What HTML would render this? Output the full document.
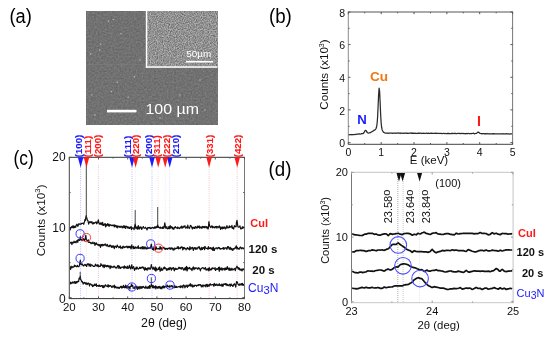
<!DOCTYPE html>
<html><head><meta charset="utf-8"><style>
html,body{margin:0;padding:0;background:#fff;}
body{width:550px;height:337px;overflow:hidden;position:relative;}
svg{position:absolute;left:0;top:0;}
text{font-family:"Liberation Sans",Arial,sans-serif;}
.pl{font-size:20px;fill:#000;}
.tk{font-size:10.5px;fill:#111;}
.tkc{font-size:11.5px;fill:#111;}
.tkd{font-size:11px;fill:#111;}
.ttl{font-size:11px;fill:#111;}
.hkl{font-size:9.6px;font-weight:bold;stroke-width:0.08px;}
.lab{font-size:11px;font-weight:bold;}
</style></head><body>
<svg width="550" height="337" viewBox="0 0 550 337">
<defs>
<clipPath id="clipc"><rect x="69.8" y="157.8" width="174.2" height="140.3"/></clipPath>
<filter id="nzm" x="0" y="0" width="100%" height="100%" color-interpolation-filters="sRGB">
<feTurbulence type="fractalNoise" baseFrequency="0.55" numOctaves="2" seed="5"/>
<feColorMatrix type="matrix" values="0.17 0 0 0 0.359  0.17 0 0 0 0.359  0.17 0 0 0 0.359  0 0 0 0 1"/>
</filter>
<filter id="nzi" x="0" y="0" width="100%" height="100%" color-interpolation-filters="sRGB">
<feTurbulence type="fractalNoise" baseFrequency="0.85" numOctaves="2" seed="9"/>
<feColorMatrix type="matrix" values="0.55 0 0 0 0.295  0.55 0 0 0 0.295  0.55 0 0 0 0.295  0 0 0 0 1"/>
<feGaussianBlur stdDeviation="0.35"/>
</filter>
</defs>
<!-- (a) -->
<text x="9.5" y="22.8" class="pl" textLength="22.3" lengthAdjust="spacingAndGlyphs">(a)</text>
<rect x="86" y="11" width="131.5" height="113.4" fill="#717171" filter="url(#nzm)"/>
<rect x="86" y="64.2" width="60" height="0.8" fill="#808080" opacity="0.6"/>
<circle cx="108.5" cy="21.3" r="0.75" fill="#b8b8b8"/><circle cx="113.4" cy="19.4" r="0.75" fill="#b8b8b8"/><circle cx="90.6" cy="54" r="0.75" fill="#b8b8b8"/><circle cx="99.6" cy="49.9" r="0.75" fill="#b8b8b8"/><circle cx="100.7" cy="44.2" r="0.75" fill="#b8b8b8"/><circle cx="117.3" cy="82.3" r="0.75" fill="#b8b8b8"/><circle cx="134.5" cy="76.8" r="0.75" fill="#b8b8b8"/><circle cx="91.8" cy="95" r="0.75" fill="#b8b8b8"/><circle cx="128.2" cy="97.3" r="0.75" fill="#b8b8b8"/><circle cx="111.4" cy="91.4" r="0.75" fill="#b8b8b8"/><circle cx="121" cy="33.8" r="0.75" fill="#b8b8b8"/><circle cx="140" cy="60" r="0.75" fill="#b8b8b8"/><circle cx="200" cy="80" r="0.75" fill="#b8b8b8"/><circle cx="180" cy="95" r="0.75" fill="#b8b8b8"/><circle cx="160" cy="118" r="0.75" fill="#b8b8b8"/><circle cx="95" cy="115" r="0.75" fill="#b8b8b8"/><circle cx="205" cy="110" r="0.75" fill="#b8b8b8"/>
<rect x="147" y="11" width="70.5" height="55.2" fill="#8c8c8c" filter="url(#nzi)"/>
<rect x="145.8" y="11" width="1.5" height="56.8" fill="#fff"/>
<rect x="145.8" y="66.3" width="71.7" height="1.5" fill="#fff"/>
<rect x="186" y="60.9" width="27" height="1.6" fill="#fff"/>
<text x="186.3" y="57.4" style="font-size:9.2px;fill:#fff;" textLength="25" lengthAdjust="spacingAndGlyphs">50µm</text>
<rect x="107" y="109.8" width="29.5" height="2.6" fill="#fff"/>
<text x="145.5" y="113.5" style="font-size:14.5px;fill:#fff;" textLength="53.5" lengthAdjust="spacingAndGlyphs">100 µm</text>

<!-- (b) -->
<text x="268.9" y="22.8" class="pl" textLength="22.9" lengthAdjust="spacingAndGlyphs">(b)</text>
<g stroke="#555" stroke-width="1" fill="none">
<line x1="348.3" y1="11.5" x2="348.3" y2="144.8" stroke="#8a8a8a" stroke-width="1.0"/><line x1="512.6" y1="11.5" x2="512.6" y2="144.8" stroke="#777" stroke-width="1.0"/><line x1="348.3" y1="12" x2="512.6" y2="12" stroke="#555" stroke-width="1.0"/><line x1="348.3" y1="144.3" x2="512.6" y2="144.3" stroke="#444" stroke-width="1.0"/>
<line x1="348.3" y1="144.3" x2="348.3" y2="142.10000000000002"/>
<line x1="348.3" y1="12" x2="348.3" y2="14.2"/>
<line x1="381.2" y1="144.3" x2="381.2" y2="142.10000000000002"/>
<line x1="381.2" y1="12" x2="381.2" y2="14.2"/>
<line x1="414.0" y1="144.3" x2="414.0" y2="142.10000000000002"/>
<line x1="414.0" y1="12" x2="414.0" y2="14.2"/>
<line x1="446.9" y1="144.3" x2="446.9" y2="142.10000000000002"/>
<line x1="446.9" y1="12" x2="446.9" y2="14.2"/>
<line x1="479.7" y1="144.3" x2="479.7" y2="142.10000000000002"/>
<line x1="479.7" y1="12" x2="479.7" y2="14.2"/>
<line x1="512.6" y1="144.3" x2="512.6" y2="142.10000000000002"/>
<line x1="512.6" y1="12" x2="512.6" y2="14.2"/>
<line x1="364.7" y1="144.3" x2="364.7" y2="143.0"/>
<line x1="364.7" y1="12" x2="364.7" y2="13.3"/>
<line x1="397.6" y1="144.3" x2="397.6" y2="143.0"/>
<line x1="397.6" y1="12" x2="397.6" y2="13.3"/>
<line x1="430.5" y1="144.3" x2="430.5" y2="143.0"/>
<line x1="430.5" y1="12" x2="430.5" y2="13.3"/>
<line x1="463.3" y1="144.3" x2="463.3" y2="143.0"/>
<line x1="463.3" y1="12" x2="463.3" y2="13.3"/>
<line x1="496.2" y1="144.3" x2="496.2" y2="143.0"/>
<line x1="496.2" y1="12" x2="496.2" y2="13.3"/>
<line x1="348.3" y1="142.6" x2="350.5" y2="142.6"/>
<line x1="512.6" y1="142.6" x2="510.40000000000003" y2="142.6"/>
<line x1="348.3" y1="109.9" x2="350.5" y2="109.9"/>
<line x1="512.6" y1="109.9" x2="510.40000000000003" y2="109.9"/>
<line x1="348.3" y1="77.3" x2="350.5" y2="77.3"/>
<line x1="512.6" y1="77.3" x2="510.40000000000003" y2="77.3"/>
<line x1="348.3" y1="44.6" x2="350.5" y2="44.6"/>
<line x1="512.6" y1="44.6" x2="510.40000000000003" y2="44.6"/>
<line x1="348.3" y1="12.0" x2="350.5" y2="12.0"/>
<line x1="512.6" y1="12.0" x2="510.40000000000003" y2="12.0"/>
<line x1="348.3" y1="126.3" x2="349.6" y2="126.3"/>
<line x1="512.6" y1="126.3" x2="511.3" y2="126.3"/>
<line x1="348.3" y1="93.6" x2="349.6" y2="93.6"/>
<line x1="512.6" y1="93.6" x2="511.3" y2="93.6"/>
<line x1="348.3" y1="61.0" x2="349.6" y2="61.0"/>
<line x1="512.6" y1="61.0" x2="511.3" y2="61.0"/>
<line x1="348.3" y1="28.3" x2="349.6" y2="28.3"/>
<line x1="512.6" y1="28.3" x2="511.3" y2="28.3"/>
</g>
<path d="M348.6,134.8 L349.1,134.8 L349.6,134.7 L350.1,134.6 L350.6,134.6 L351.1,134.5 L351.6,134.6 L352.1,134.8 L352.6,134.5 L353.1,134.5 L353.6,134.6 L354.1,134.5 L354.6,134.5 L355.1,134.3 L355.6,134.4 L356.1,134.5 L356.6,134.2 L357.1,134.2 L357.6,134.0 L358.1,134.0 L358.6,133.9 L359.1,134.1 L359.6,133.9 L360.1,134.0 L360.6,134.0 L361.1,133.9 L361.6,133.5 L362.1,133.7 L362.6,133.7 L363.1,133.6 L363.6,133.0 L364.1,132.5 L364.6,131.5 L365.1,130.6 L365.6,130.4 L366.1,130.5 L366.6,131.4 L367.1,132.4 L367.6,132.7 L368.1,133.0 L368.6,133.1 L369.1,133.0 L369.6,132.7 L370.1,132.7 L370.6,132.7 L371.1,132.1 L371.6,132.0 L372.1,131.6 L372.6,131.1 L373.1,131.1 L373.6,130.6 L374.1,130.2 L374.6,130.1 L375.1,129.8 L375.6,129.1 L376.1,128.3 L376.6,126.7 L377.1,123.5 L377.6,117.0 L378.1,106.2 L378.6,94.7 L379.1,88.2 L379.6,91.4 L380.1,101.8 L380.6,113.7 L381.1,122.3 L381.6,127.2 L382.1,129.7 L382.6,130.8 L383.1,131.7 L383.6,132.4 L384.1,132.4 L384.6,132.8 L385.1,133.0 L385.6,133.2 L386.1,133.2 L386.6,133.1 L387.1,133.1 L387.6,133.1 L388.1,133.3 L388.6,133.1 L389.1,133.1 L389.6,133.2 L390.1,133.1 L390.6,133.1 L391.1,133.0 L391.6,133.1 L392.1,133.1 L392.6,133.3 L393.1,133.2 L393.6,133.2 L394.1,133.2 L394.6,133.1 L395.1,133.3 L395.6,133.2 L396.1,133.2 L396.6,133.0 L397.1,133.2 L397.6,133.0 L398.1,132.9 L398.6,133.2 L399.1,133.1 L399.6,133.2 L400.1,133.5 L400.6,133.1 L401.1,133.1 L401.6,133.2 L402.1,133.3 L402.6,133.2 L403.1,133.2 L403.6,133.3 L404.1,133.3 L404.6,133.1 L405.1,133.2 L405.6,133.2 L406.1,133.1 L406.6,133.3 L407.1,133.1 L407.6,133.4 L408.1,133.3 L408.6,133.3 L409.1,133.2 L409.6,133.2 L410.1,133.0 L410.6,133.1 L411.1,133.3 L411.6,133.0 L412.1,133.4 L412.6,133.1 L413.1,133.4 L413.6,133.2 L414.1,133.4 L414.6,133.3 L415.1,133.1 L415.6,133.4 L416.1,133.5 L416.6,133.3 L417.1,133.3 L417.6,133.3 L418.1,133.2 L418.6,133.4 L419.1,133.2 L419.6,133.3 L420.1,133.2 L420.6,133.2 L421.1,133.2 L421.6,133.5 L422.1,133.3 L422.6,133.4 L423.1,133.3 L423.6,133.2 L424.1,133.3 L424.6,133.3 L425.1,133.3 L425.6,133.3 L426.1,133.3 L426.6,133.2 L427.1,133.2 L427.6,133.5 L428.1,133.3 L428.6,133.2 L429.1,133.4 L429.6,133.5 L430.1,133.2 L430.6,133.3 L431.1,133.3 L431.6,133.1 L432.1,133.4 L432.6,133.4 L433.1,133.4 L433.6,133.3 L434.1,133.4 L434.6,133.3 L435.1,133.4 L435.6,133.2 L436.1,133.2 L436.6,133.5 L437.1,133.3 L437.6,133.4 L438.1,133.4 L438.6,133.3 L439.1,133.3 L439.6,133.5 L440.1,133.4 L440.6,133.4 L441.1,133.4 L441.6,133.6 L442.1,133.5 L442.6,133.5 L443.1,133.4 L443.6,133.3 L444.1,133.5 L444.6,133.5 L445.1,133.4 L445.6,133.5 L446.1,133.5 L446.6,133.5 L447.1,133.6 L447.6,133.4 L448.1,133.6 L448.6,133.3 L449.1,133.6 L449.6,133.5 L450.1,133.6 L450.6,133.7 L451.1,133.7 L451.6,133.3 L452.1,133.3 L452.6,133.6 L453.1,133.4 L453.6,133.5 L454.1,133.6 L454.6,133.3 L455.1,133.2 L455.6,133.5 L456.1,133.5 L456.6,133.5 L457.1,133.5 L457.6,133.4 L458.1,133.3 L458.6,133.5 L459.1,133.4 L459.6,133.3 L460.1,133.6 L460.6,133.5 L461.1,133.6 L461.6,133.4 L462.1,133.5 L462.6,133.4 L463.1,133.4 L463.6,133.6 L464.1,133.5 L464.6,133.6 L465.1,133.6 L465.6,133.8 L466.1,133.4 L466.6,133.7 L467.1,133.6 L467.6,133.6 L468.1,133.4 L468.6,133.5 L469.1,133.7 L469.6,133.6 L470.1,133.6 L470.6,133.6 L471.1,133.7 L471.6,133.6 L472.1,133.4 L472.6,133.5 L473.1,133.4 L473.6,133.2 L474.1,133.6 L474.6,133.8 L475.1,133.6 L475.6,133.5 L476.1,133.4 L476.6,133.4 L477.1,132.9 L477.6,132.4 L478.1,132.1 L478.6,132.2 L479.1,132.6 L479.6,133.1 L480.1,133.4 L480.6,133.5 L481.1,133.7 L481.6,133.6 L482.1,133.9 L482.6,133.6 L483.1,133.7 L483.6,133.7 L484.1,133.6 L484.6,134.0 L485.1,133.9 L485.6,133.7 L486.1,133.9 L486.6,133.8 L487.1,133.5 L487.6,133.8 L488.1,133.8 L488.6,133.8 L489.1,133.7 L489.6,133.8 L490.1,133.8 L490.6,133.9 L491.1,133.8 L491.6,133.8 L492.1,134.0 L492.6,133.7 L493.1,133.8 L493.6,133.6 L494.1,134.0 L494.6,133.9 L495.1,133.9 L495.6,133.9 L496.1,133.8 L496.6,133.9 L497.1,133.8 L497.6,133.8 L498.1,133.8 L498.6,134.0 L499.1,133.9 L499.6,133.8 L500.1,133.8 L500.6,133.8 L501.1,134.0 L501.6,133.9 L502.1,133.9 L502.6,133.8 L503.1,133.7 L503.6,133.9 L504.1,134.0 L504.6,133.8 L505.1,133.8 L505.6,133.8 L506.1,133.9 L506.6,133.7 L507.1,133.8 L507.6,133.8 L508.1,134.0 L508.6,133.8 L509.1,134.0 L509.6,134.1 L510.1,133.9 L510.6,133.8 L511.1,133.9 L511.6,133.9 L512.1,133.8" fill="none" stroke="#2a2a2a" stroke-width="1.25" stroke-linejoin="round"/>
<g class="tk" text-anchor="end">
<text x="345" y="147.2">0</text><text x="345" y="114.5">2</text><text x="345" y="81.9">4</text><text x="345" y="49.2">6</text><text x="345" y="16.6">8</text>
</g>
<g class="tk" text-anchor="middle">
<text x="348.3" y="156.2">0</text><text x="381.2" y="156.2">1</text><text x="414.0" y="156.2">2</text><text x="446.9" y="156.2">3</text><text x="479.7" y="156.2">4</text><text x="512.6" y="156.2">5</text>
</g>
<text x="429" y="164" class="ttl" style="font-size:11.5px" text-anchor="middle">E (keV)</text>
<text transform="translate(328,74.5) rotate(-90)" class="ttl" style="font-size:11.6px" text-anchor="middle">Counts (x10<tspan dy="-4" style="font-size:7px">3</tspan><tspan dy="4">)</tspan></text>
<text x="370" y="81.4" style="font-size:13.6px;font-weight:bold;fill:#f07a12;">Cu</text>
<text x="357.2" y="124.4" style="font-size:13.2px;font-weight:bold;fill:#1a1aff;">N</text>
<text x="476.9" y="126.1" style="font-size:14.2px;font-weight:bold;fill:#ff1a1a;">I</text>

<!-- (c) -->
<text x="13.6" y="165.1" class="pl" textLength="20.2" lengthAdjust="spacingAndGlyphs">(c)</text>
<line x1="80.6" y1="165" x2="80.6" y2="298" stroke="#8c8cf6" stroke-width="0.7" stroke-dasharray="0.8,1.4"/><line x1="132.0" y1="165" x2="132.0" y2="298" stroke="#8c8cf6" stroke-width="0.7" stroke-dasharray="0.8,1.4"/><line x1="152.0" y1="165" x2="152.0" y2="298" stroke="#8c8cf6" stroke-width="0.7" stroke-dasharray="0.8,1.4"/><line x1="169.7" y1="165" x2="169.7" y2="298" stroke="#c8c8fa" stroke-width="0.7" stroke-dasharray="0.8,1.4"/><line x1="86.5" y1="165" x2="86.5" y2="298" stroke="#f8d0d0" stroke-width="0.7" stroke-dasharray="0.8,1.4"/><line x1="135.6" y1="165" x2="135.6" y2="298" stroke="#f8d0d0" stroke-width="0.7" stroke-dasharray="0.8,1.4"/><line x1="98.4" y1="165" x2="98.4" y2="298" stroke="#f49a9a" stroke-width="0.7" stroke-dasharray="0.8,1.4"/><line x1="158.2" y1="165" x2="158.2" y2="298" stroke="#f8d0d0" stroke-width="0.7" stroke-dasharray="0.8,1.4"/><line x1="165.2" y1="165" x2="165.2" y2="298" stroke="#f8d0d0" stroke-width="0.7" stroke-dasharray="0.8,1.4"/><line x1="209.1" y1="165" x2="209.1" y2="298" stroke="#f49a9a" stroke-width="0.7" stroke-dasharray="0.8,1.4"/><line x1="237.2" y1="165" x2="237.2" y2="298" stroke="#f49a9a" stroke-width="0.7" stroke-dasharray="0.8,1.4"/>
<g stroke="#555" stroke-width="1" fill="none">
<line x1="69.3" y1="156.8" x2="69.3" y2="299.1" stroke="#444" stroke-width="1.0"/><line x1="244.5" y1="156.8" x2="244.5" y2="299.1" stroke="#777" stroke-width="1.0"/><line x1="69.3" y1="157.3" x2="244.5" y2="157.3" stroke="#333" stroke-width="1.0"/><line x1="69.3" y1="298.6" x2="244.5" y2="298.6" stroke="#333" stroke-width="1.0"/>
<line x1="69.3" y1="298.6" x2="69.3" y2="296.40000000000003"/>
<line x1="69.3" y1="157.3" x2="69.3" y2="159.5"/>
<line x1="98.5" y1="298.6" x2="98.5" y2="296.40000000000003"/>
<line x1="98.5" y1="157.3" x2="98.5" y2="159.5"/>
<line x1="127.7" y1="298.6" x2="127.7" y2="296.40000000000003"/>
<line x1="127.7" y1="157.3" x2="127.7" y2="159.5"/>
<line x1="156.9" y1="298.6" x2="156.9" y2="296.40000000000003"/>
<line x1="156.9" y1="157.3" x2="156.9" y2="159.5"/>
<line x1="186.1" y1="298.6" x2="186.1" y2="296.40000000000003"/>
<line x1="186.1" y1="157.3" x2="186.1" y2="159.5"/>
<line x1="215.3" y1="298.6" x2="215.3" y2="296.40000000000003"/>
<line x1="215.3" y1="157.3" x2="215.3" y2="159.5"/>
<line x1="244.5" y1="298.6" x2="244.5" y2="296.40000000000003"/>
<line x1="244.5" y1="157.3" x2="244.5" y2="159.5"/>
<line x1="83.9" y1="298.6" x2="83.9" y2="297.3"/>
<line x1="83.9" y1="157.3" x2="83.9" y2="158.60000000000002"/>
<line x1="113.1" y1="298.6" x2="113.1" y2="297.3"/>
<line x1="113.1" y1="157.3" x2="113.1" y2="158.60000000000002"/>
<line x1="142.3" y1="298.6" x2="142.3" y2="297.3"/>
<line x1="142.3" y1="157.3" x2="142.3" y2="158.60000000000002"/>
<line x1="171.5" y1="298.6" x2="171.5" y2="297.3"/>
<line x1="171.5" y1="157.3" x2="171.5" y2="158.60000000000002"/>
<line x1="200.7" y1="298.6" x2="200.7" y2="297.3"/>
<line x1="200.7" y1="157.3" x2="200.7" y2="158.60000000000002"/>
<line x1="229.9" y1="298.6" x2="229.9" y2="297.3"/>
<line x1="229.9" y1="157.3" x2="229.9" y2="158.60000000000002"/>
<line x1="69.3" y1="297.6" x2="71.5" y2="297.6"/>
<line x1="244.5" y1="297.6" x2="242.3" y2="297.6"/>
<line x1="69.3" y1="227.5" x2="71.5" y2="227.5"/>
<line x1="244.5" y1="227.5" x2="242.3" y2="227.5"/>
<line x1="69.3" y1="157.4" x2="71.5" y2="157.4"/>
<line x1="244.5" y1="157.4" x2="242.3" y2="157.4"/>
<line x1="69.3" y1="262.6" x2="70.6" y2="262.6"/>
<line x1="244.5" y1="262.6" x2="243.2" y2="262.6"/>
<line x1="69.3" y1="192.5" x2="70.6" y2="192.5"/>
<line x1="244.5" y1="192.5" x2="243.2" y2="192.5"/>
</g>
<g fill="none" stroke="#111" stroke-width="1.2" stroke-linejoin="round" clip-path="url(#clipc)">
<path d="M69.8,228.8 L70.2,229.9 L70.6,227.8 L71.1,227.6 L71.5,226.7 L71.9,227.7 L72.3,226.2 L72.7,226.1 L73.2,227.9 L73.6,225.9 L74.0,227.4 L74.4,227.6 L74.8,226.3 L75.3,226.4 L75.7,227.4 L76.1,225.4 L76.5,225.0 L76.9,224.2 L77.4,225.2 L77.8,226.3 L78.2,225.7 L78.6,223.9 L79.0,223.8 L79.5,224.0 L79.9,224.5 L80.3,223.9 L80.7,224.1 L81.1,224.1 L81.6,223.4 L82.0,223.5 L82.4,223.5 L82.8,223.1 L83.2,223.4 L83.7,224.3 L84.1,222.8 L84.5,221.7 L84.9,219.5 L85.3,220.6 L85.8,217.5 L86.2,215.5 L86.3,216.5 L86.3,216.5 L86.6,217.6 L87.0,218.4 L87.4,220.3 L87.9,220.6 L88.3,222.3 L88.7,224.1 L89.1,222.6 L89.5,221.9 L90.0,221.6 L90.4,222.6 L90.8,222.5 L91.2,221.7 L91.6,222.9 L92.1,221.8 L92.5,223.8 L92.9,223.7 L93.3,223.8 L93.7,222.5 L94.2,223.4 L94.6,222.8 L95.0,222.7 L95.4,222.7 L95.8,221.9 L96.3,221.9 L96.7,223.8 L97.1,223.0 L97.5,222.9 L97.9,221.8 L98.2,220.2 L98.4,219.9 L98.8,222.7 L99.2,223.7 L99.6,223.2 L100.0,224.5 L100.5,223.8 L100.9,222.7 L101.3,223.0 L101.7,224.6 L102.1,224.4 L102.6,222.4 L103.0,225.3 L103.4,224.7 L103.8,225.4 L104.2,224.0 L104.7,224.2 L105.1,223.6 L105.5,226.8 L105.9,224.5 L106.3,226.1 L106.8,224.3 L107.2,225.1 L107.6,223.6 L108.0,224.7 L108.4,226.0 L108.9,224.2 L109.3,226.2 L109.7,225.7 L110.1,224.6 L110.5,225.1 L111.0,225.2 L111.4,225.7 L111.8,225.3 L112.2,225.2 L112.6,225.7 L113.1,225.1 L113.5,225.0 L113.9,226.1 L114.3,226.9 L114.7,224.9 L115.2,226.3 L115.6,225.8 L116.0,225.5 L116.4,227.1 L116.8,226.0 L117.3,227.8 L117.7,225.9 L118.1,226.9 L118.5,226.5 L118.9,226.1 L119.4,227.2 L119.8,226.7 L120.2,227.4 L120.6,226.9 L121.0,226.0 L121.5,226.9 L121.9,227.1 L122.3,227.9 L122.7,226.4 L123.1,227.2 L123.6,225.8 L124.0,227.8 L124.4,226.4 L124.8,225.9 L125.2,227.4 L125.7,228.4 L126.1,226.2 L126.5,226.7 L126.9,227.0 L127.3,226.7 L127.8,228.1 L128.2,227.1 L128.6,227.2 L129.0,228.4 L129.4,227.3 L129.9,228.4 L130.3,227.2 L130.7,227.0 L131.1,226.5 L131.5,229.6 L132.0,227.7 L132.4,228.2 L132.8,228.0 L133.2,228.2 L133.6,228.1 L134.1,229.7 L134.5,227.0 L134.9,224.9 L135.2,225.1 L135.3,224.1 L135.7,228.1 L136.2,228.7 L136.6,227.2 L137.0,226.9 L137.4,227.8 L137.8,229.3 L138.3,225.7 L138.7,228.5 L139.1,227.2 L139.5,229.0 L139.9,227.2 L140.4,227.9 L140.8,226.8 L141.2,227.3 L141.6,229.3 L142.0,228.8 L142.5,227.8 L142.9,227.4 L143.3,226.5 L143.7,227.8 L144.1,228.1 L144.6,228.1 L145.0,228.1 L145.4,227.2 L145.8,228.1 L146.2,228.1 L146.7,229.3 L147.1,229.8 L147.5,228.1 L147.9,227.5 L148.3,228.1 L148.8,227.7 L149.2,227.6 L149.6,228.1 L150.0,227.3 L150.4,228.7 L150.9,228.1 L151.3,228.4 L151.7,228.0 L152.1,227.5 L152.5,227.3 L153.0,227.9 L153.4,227.7 L153.8,228.3 L154.2,228.1 L154.6,226.9 L155.1,228.2 L155.5,226.9 L155.9,227.6 L156.3,227.8 L156.7,226.3 L157.2,227.5 L157.6,225.4 L157.7,225.0 L158.0,225.9 L158.4,227.5 L158.8,227.2 L159.3,227.8 L159.7,227.5 L160.1,228.1 L160.5,227.0 L160.9,228.2 L161.4,228.1 L161.8,227.8 L162.2,227.6 L162.6,228.4 L163.0,226.5 L163.5,228.3 L163.9,228.0 L164.3,226.4 L164.7,223.4 L164.8,222.9 L165.1,224.6 L165.6,228.0 L166.0,228.2 L166.4,228.0 L166.8,226.6 L167.2,228.3 L167.7,228.8 L168.1,228.7 L168.5,228.0 L168.9,226.5 L169.3,228.6 L169.8,227.7 L170.2,225.6 L170.6,228.1 L171.0,226.5 L171.4,226.7 L171.9,227.2 L172.3,228.8 L172.7,227.4 L173.1,228.0 L173.5,229.2 L174.0,229.1 L174.4,227.6 L174.8,227.5 L175.2,226.6 L175.6,227.1 L176.1,228.0 L176.5,228.0 L176.9,227.8 L177.3,228.5 L177.7,227.0 L178.2,227.6 L178.6,228.2 L179.0,228.1 L179.4,228.5 L179.8,227.9 L180.3,227.3 L180.7,227.9 L181.1,226.7 L181.5,226.2 L181.9,228.1 L182.4,227.5 L182.8,227.8 L183.2,226.1 L183.6,227.2 L184.0,227.0 L184.5,226.8 L184.9,225.6 L185.3,227.2 L185.7,228.2 L186.1,227.8 L186.6,227.0 L187.0,227.4 L187.4,228.1 L187.8,225.1 L188.2,227.3 L188.7,227.9 L189.1,227.9 L189.5,228.4 L189.9,227.1 L190.3,225.7 L190.5,225.4 L190.8,226.2 L191.2,225.9 L191.6,227.0 L192.0,228.0 L192.4,229.0 L192.9,227.2 L193.3,227.3 L193.7,227.5 L194.1,228.5 L194.5,227.3 L195.0,228.5 L195.4,226.5 L195.8,227.1 L196.2,227.1 L196.6,227.9 L197.1,228.1 L197.5,226.0 L197.9,226.5 L198.3,227.5 L198.7,226.7 L199.2,225.9 L199.6,228.1 L200.0,227.6 L200.4,227.6 L200.8,226.8 L201.3,228.1 L201.7,227.0 L202.1,228.1 L202.5,226.4 L202.9,226.5 L203.4,227.4 L203.8,226.6 L204.2,227.8 L204.6,227.4 L205.0,226.4 L205.5,227.3 L205.9,226.9 L206.3,228.0 L206.7,226.7 L207.1,226.8 L207.6,228.2 L208.0,229.0 L208.4,227.7 L208.8,222.5 L209.0,221.7 L209.2,224.2 L209.7,226.2 L210.1,226.3 L210.5,227.3 L210.9,227.6 L211.3,226.5 L211.8,225.8 L212.2,226.0 L212.6,227.8 L213.0,226.6 L213.4,227.1 L213.9,227.4 L214.3,227.8 L214.7,226.9 L215.1,227.7 L215.5,226.5 L216.0,226.9 L216.4,226.4 L216.8,228.2 L217.2,227.2 L217.6,226.6 L218.1,226.9 L218.5,227.1 L218.9,227.8 L219.3,225.9 L219.7,226.4 L220.2,226.9 L220.6,229.4 L221.0,228.1 L221.4,227.2 L221.8,227.9 L222.3,229.0 L222.7,227.1 L223.1,226.9 L223.5,228.3 L223.9,227.7 L224.4,227.8 L224.8,226.8 L225.2,228.9 L225.6,228.7 L226.0,227.7 L226.5,227.8 L226.9,225.5 L227.3,227.8 L227.7,227.1 L228.1,227.6 L228.6,227.8 L229.0,227.0 L229.4,225.8 L229.8,227.6 L230.2,226.6 L230.7,227.0 L231.1,226.8 L231.5,227.0 L231.9,225.3 L232.3,228.3 L232.8,227.5 L233.2,228.2 L233.6,229.0 L234.0,227.3 L234.4,225.7 L234.9,226.5 L235.3,226.3 L235.7,226.8 L236.1,226.7 L236.5,222.0 L237.0,220.3 L237.0,220.3 L237.4,223.1 L237.8,226.2 L238.2,227.0 L238.6,227.2 L239.1,226.8 L239.5,226.8 L239.9,225.9 L240.3,227.3 L240.7,228.9 L241.2,229.0 L241.6,228.4 L242.0,227.9 L242.4,226.7 L242.8,228.5 L243.3,227.2 L243.7,227.2 L244.1,227.1"/>
<path d="M69.8,243.5 L70.2,242.9 L70.6,243.1 L71.1,242.1 L71.5,242.6 L71.9,244.7 L72.3,242.6 L72.7,242.3 L73.2,242.8 L73.6,242.8 L74.0,241.2 L74.4,241.8 L74.8,242.6 L75.3,242.0 L75.7,241.7 L76.1,242.8 L76.5,240.8 L76.9,241.3 L77.4,240.7 L77.8,242.3 L78.2,239.3 L78.6,240.3 L79.0,240.1 L79.5,240.4 L79.9,239.0 L80.2,238.0 L80.3,236.7 L80.7,239.6 L81.1,239.7 L81.6,239.7 L82.0,240.7 L82.4,239.4 L82.8,238.4 L83.2,239.8 L83.7,238.8 L84.1,239.5 L84.5,240.5 L84.9,239.9 L85.3,238.4 L85.6,236.1 L85.8,235.3 L86.2,239.0 L86.6,240.1 L87.0,240.1 L87.4,241.7 L87.9,240.9 L88.3,239.9 L88.7,242.3 L89.1,241.8 L89.5,242.3 L90.0,242.3 L90.4,242.9 L90.8,242.5 L91.2,243.7 L91.6,243.1 L92.1,243.3 L92.5,243.4 L92.9,242.0 L93.3,243.2 L93.7,243.3 L94.2,243.8 L94.6,242.6 L95.0,245.3 L95.4,244.2 L95.8,243.2 L96.3,242.9 L96.7,244.3 L97.1,244.6 L97.5,244.2 L97.9,245.1 L98.4,244.5 L98.8,245.5 L99.2,244.5 L99.6,245.1 L100.0,246.0 L100.5,247.4 L100.9,244.4 L101.3,244.9 L101.7,244.6 L102.1,246.0 L102.6,244.4 L103.0,245.0 L103.4,245.5 L103.8,244.7 L104.2,244.7 L104.7,245.2 L105.1,243.8 L105.5,244.4 L105.9,245.3 L106.3,245.9 L106.8,245.6 L107.2,244.3 L107.6,245.5 L108.0,246.6 L108.4,246.4 L108.9,245.9 L109.3,245.2 L109.7,246.6 L110.1,245.6 L110.5,245.1 L111.0,245.5 L111.4,247.4 L111.8,246.4 L112.2,247.2 L112.6,245.9 L113.1,247.1 L113.5,245.9 L113.9,246.3 L114.3,248.6 L114.7,247.1 L115.2,246.1 L115.6,246.5 L116.0,246.8 L116.4,247.6 L116.8,246.2 L117.3,245.1 L117.7,246.4 L118.1,246.7 L118.5,246.8 L118.9,247.8 L119.4,247.0 L119.8,247.4 L120.2,245.8 L120.6,247.5 L121.0,248.6 L121.5,247.5 L121.9,247.0 L122.3,247.0 L122.7,248.4 L123.1,246.1 L123.6,246.8 L124.0,247.3 L124.4,247.6 L124.8,246.6 L125.2,247.2 L125.7,246.8 L126.1,247.1 L126.5,246.9 L126.9,246.1 L127.3,247.1 L127.8,247.8 L128.2,246.3 L128.6,246.9 L129.0,247.7 L129.4,246.3 L129.9,247.4 L130.3,246.3 L130.7,248.2 L131.1,248.8 L131.5,247.1 L131.8,244.8 L132.0,245.7 L132.4,246.8 L132.8,247.4 L133.2,248.7 L133.6,246.3 L134.1,248.3 L134.5,247.4 L134.9,248.6 L135.3,247.6 L135.7,246.9 L136.2,247.7 L136.6,248.2 L137.0,247.6 L137.4,248.0 L137.8,247.1 L138.3,245.8 L138.7,248.4 L139.1,248.2 L139.5,247.8 L139.9,247.8 L140.4,248.6 L140.8,247.4 L141.2,247.2 L141.6,247.6 L142.0,248.8 L142.5,246.6 L142.9,248.9 L143.3,247.3 L143.7,247.0 L144.1,249.0 L144.6,247.8 L145.0,246.8 L145.4,247.7 L145.8,248.8 L146.2,249.0 L146.7,247.7 L147.1,248.4 L147.5,248.7 L147.9,247.5 L148.3,248.4 L148.8,248.1 L149.2,247.7 L149.6,247.8 L150.0,248.3 L150.4,248.0 L150.9,245.9 L151.3,244.2 L151.3,244.2 L151.7,246.3 L152.1,248.7 L152.5,249.3 L153.0,248.7 L153.4,250.2 L153.8,247.6 L154.2,249.0 L154.6,248.0 L155.1,249.9 L155.5,249.7 L155.9,246.6 L156.3,247.5 L156.7,248.9 L157.2,249.0 L157.6,248.9 L158.0,248.3 L158.4,248.7 L158.8,248.9 L159.3,248.3 L159.7,249.2 L160.1,246.4 L160.5,248.9 L160.9,247.5 L161.4,249.2 L161.8,248.2 L162.2,247.6 L162.6,248.7 L163.0,247.6 L163.5,247.6 L163.9,247.1 L164.3,248.4 L164.7,248.8 L165.1,249.3 L165.6,248.3 L166.0,249.3 L166.4,248.5 L166.8,248.4 L167.2,248.9 L167.7,249.4 L168.1,248.2 L168.5,248.3 L168.9,248.3 L169.3,248.6 L169.8,247.7 L170.2,249.4 L170.6,248.2 L171.0,248.9 L171.4,247.8 L171.9,248.8 L172.3,248.8 L172.7,248.1 L173.1,250.2 L173.5,248.8 L174.0,250.0 L174.4,249.3 L174.8,247.9 L175.2,248.2 L175.6,248.9 L176.1,248.5 L176.5,248.5 L176.9,248.2 L177.3,246.9 L177.7,248.3 L178.2,246.6 L178.6,248.8 L179.0,247.9 L179.4,247.9 L179.8,248.3 L180.3,248.7 L180.7,247.2 L181.1,247.0 L181.5,247.6 L181.9,246.7 L182.4,247.6 L182.8,249.8 L183.2,247.6 L183.6,249.0 L184.0,247.3 L184.5,248.7 L184.9,248.2 L185.3,248.4 L185.7,248.9 L186.1,249.9 L186.6,248.6 L187.0,248.5 L187.4,247.6 L187.8,248.9 L188.2,248.2 L188.7,249.1 L189.1,248.4 L189.5,249.9 L189.9,246.7 L190.3,248.2 L190.8,249.2 L191.2,248.1 L191.6,247.8 L192.0,248.2 L192.4,247.3 L192.9,248.5 L193.3,250.5 L193.7,249.4 L194.1,247.5 L194.5,247.7 L195.0,248.1 L195.4,249.3 L195.8,247.7 L196.2,247.8 L196.6,249.2 L197.1,249.1 L197.5,248.1 L197.9,247.5 L198.3,247.1 L198.7,247.8 L199.2,246.5 L199.6,249.0 L200.0,247.9 L200.4,248.8 L200.8,250.0 L201.3,249.4 L201.7,247.4 L202.1,249.1 L202.5,249.4 L202.9,247.8 L203.4,247.6 L203.8,248.3 L204.2,247.0 L204.6,249.7 L205.0,246.4 L205.5,247.5 L205.9,248.2 L206.3,248.2 L206.7,248.5 L207.1,248.6 L207.6,248.2 L208.0,249.4 L208.4,246.6 L208.8,248.4 L209.2,247.8 L209.7,248.5 L210.1,248.6 L210.5,247.6 L210.9,247.9 L211.3,249.1 L211.8,248.7 L212.2,247.8 L212.6,250.1 L213.0,250.4 L213.4,247.2 L213.9,248.7 L214.3,250.5 L214.7,249.1 L215.1,248.6 L215.5,248.2 L216.0,247.9 L216.4,248.2 L216.8,247.9 L217.2,249.0 L217.6,248.1 L218.1,248.0 L218.5,247.4 L218.9,248.4 L219.3,247.6 L219.7,248.2 L220.2,249.3 L220.6,248.7 L221.0,248.8 L221.4,248.7 L221.8,248.5 L222.3,248.3 L222.7,248.1 L223.1,249.0 L223.5,247.5 L223.9,249.5 L224.4,248.4 L224.8,247.8 L225.2,248.0 L225.6,247.8 L226.0,248.5 L226.5,247.8 L226.9,249.4 L227.3,247.7 L227.7,246.5 L228.1,247.8 L228.6,246.7 L229.0,248.4 L229.4,249.3 L229.8,249.0 L230.2,247.3 L230.7,247.8 L231.1,249.9 L231.5,248.7 L231.9,248.4 L232.3,249.3 L232.8,250.5 L233.2,249.5 L233.6,248.5 L234.0,248.7 L234.4,248.9 L234.9,247.9 L235.3,247.5 L235.7,248.1 L236.1,246.0 L236.5,245.9 L236.5,245.9 L237.0,249.1 L237.4,247.5 L237.8,248.3 L238.2,248.3 L238.6,248.8 L239.1,249.3 L239.5,248.0 L239.9,247.7 L240.3,247.0 L240.7,247.6 L241.2,248.9 L241.6,248.4 L242.0,247.5 L242.4,248.1 L242.8,248.4 L243.3,248.8 L243.7,247.9 L244.1,248.2"/>
<path d="M69.8,266.8 L70.2,267.3 L70.6,269.5 L71.1,266.1 L71.5,267.5 L71.9,267.8 L72.3,267.2 L72.7,266.7 L73.2,267.2 L73.6,267.1 L74.0,266.8 L74.4,265.2 L74.8,266.5 L75.3,265.7 L75.7,265.8 L76.1,266.4 L76.5,266.6 L76.9,266.7 L77.4,265.4 L77.8,266.5 L78.2,266.6 L78.6,266.5 L79.0,266.6 L79.5,264.8 L79.9,262.4 L80.2,261.2 L80.3,260.2 L80.7,264.0 L81.1,264.6 L81.6,264.8 L82.0,263.7 L82.4,264.4 L82.8,265.1 L83.2,265.8 L83.7,265.9 L84.1,265.0 L84.5,264.9 L84.9,264.3 L85.3,265.4 L85.8,264.8 L86.2,265.5 L86.6,266.5 L87.0,265.0 L87.4,263.8 L87.9,264.3 L88.3,263.9 L88.7,264.1 L89.1,266.2 L89.5,265.3 L90.0,263.9 L90.4,265.7 L90.8,266.3 L91.2,264.9 L91.6,264.7 L92.1,265.0 L92.5,265.5 L92.9,265.8 L93.3,266.3 L93.7,266.4 L94.2,266.3 L94.6,266.5 L95.0,265.9 L95.4,264.1 L95.8,265.3 L96.3,265.7 L96.7,265.1 L97.1,266.2 L97.5,265.2 L97.9,264.7 L98.4,266.8 L98.8,266.1 L99.2,265.8 L99.6,266.4 L100.0,266.5 L100.5,266.0 L100.9,263.6 L101.3,265.2 L101.7,265.4 L102.1,264.9 L102.6,266.0 L103.0,266.9 L103.4,265.5 L103.8,264.9 L104.2,267.6 L104.7,265.6 L105.1,264.9 L105.5,266.2 L105.9,266.4 L106.3,265.5 L106.8,266.8 L107.2,265.7 L107.6,265.4 L108.0,266.3 L108.4,266.9 L108.9,265.7 L109.3,266.6 L109.7,266.2 L110.1,268.7 L110.5,265.8 L111.0,267.6 L111.4,266.4 L111.8,266.3 L112.2,267.1 L112.6,267.3 L113.1,267.6 L113.5,266.8 L113.9,266.1 L114.3,266.2 L114.7,267.1 L115.2,267.2 L115.6,267.9 L116.0,267.1 L116.4,267.7 L116.8,268.1 L117.3,267.0 L117.7,265.6 L118.1,265.9 L118.5,265.7 L118.9,268.3 L119.4,266.2 L119.8,268.0 L120.2,267.5 L120.6,268.5 L121.0,267.9 L121.5,267.0 L121.9,267.0 L122.3,267.2 L122.7,267.3 L123.1,266.8 L123.6,267.2 L124.0,268.6 L124.4,265.8 L124.8,267.5 L125.2,266.6 L125.7,267.5 L126.1,268.1 L126.5,267.4 L126.9,268.1 L127.3,266.1 L127.8,268.5 L128.2,267.0 L128.6,268.1 L129.0,267.8 L129.4,265.4 L129.9,267.0 L130.3,267.9 L130.7,269.0 L131.1,267.5 L131.5,265.7 L131.8,264.8 L132.0,266.3 L132.4,268.6 L132.8,267.8 L133.2,267.7 L133.6,266.5 L134.1,268.7 L134.5,270.3 L134.9,268.6 L135.3,269.1 L135.7,268.5 L136.2,267.2 L136.6,269.2 L137.0,267.1 L137.4,268.0 L137.8,268.4 L138.3,269.0 L138.7,268.6 L139.1,268.6 L139.5,267.7 L139.9,267.2 L140.4,268.4 L140.8,267.8 L141.2,267.3 L141.6,267.4 L142.0,268.1 L142.5,266.9 L142.9,267.4 L143.3,267.2 L143.7,268.7 L144.1,269.0 L144.6,270.3 L145.0,267.4 L145.4,268.1 L145.8,269.5 L146.2,268.6 L146.7,268.5 L147.1,270.3 L147.5,268.5 L147.9,267.9 L148.3,267.8 L148.8,269.2 L149.2,269.2 L149.6,267.8 L150.0,268.2 L150.4,269.2 L150.9,267.4 L151.3,264.5 L151.3,264.5 L151.7,267.1 L152.1,267.2 L152.5,268.7 L153.0,269.3 L153.4,268.5 L153.8,267.1 L154.2,268.7 L154.6,269.6 L155.1,270.3 L155.5,267.1 L155.9,271.2 L156.3,268.0 L156.7,269.7 L157.2,270.0 L157.6,269.8 L158.0,269.0 L158.4,267.9 L158.8,269.4 L159.3,268.3 L159.7,266.8 L160.1,271.3 L160.5,269.5 L160.9,270.4 L161.4,268.1 L161.8,270.1 L162.2,270.2 L162.6,270.2 L163.0,268.9 L163.5,267.8 L163.9,268.7 L164.3,267.0 L164.7,267.4 L165.1,268.9 L165.6,268.0 L166.0,268.7 L166.4,268.7 L166.8,270.5 L167.2,269.9 L167.7,268.8 L168.1,269.8 L168.5,268.2 L168.9,268.5 L169.3,269.6 L169.8,267.7 L170.2,268.6 L170.6,267.7 L171.0,268.9 L171.4,270.2 L171.9,268.1 L172.3,269.0 L172.7,268.0 L173.1,267.8 L173.5,267.7 L174.0,270.0 L174.4,270.8 L174.8,269.2 L175.2,268.1 L175.6,269.3 L176.1,268.5 L176.5,269.4 L176.9,269.0 L177.3,269.0 L177.7,269.2 L178.2,268.2 L178.6,268.4 L179.0,267.2 L179.4,268.3 L179.8,267.5 L180.3,268.6 L180.7,267.9 L181.1,268.8 L181.5,269.1 L181.9,267.5 L182.4,268.0 L182.8,267.9 L183.2,269.3 L183.6,270.1 L184.0,269.4 L184.5,268.4 L184.9,269.9 L185.3,267.4 L185.7,269.9 L186.1,268.1 L186.6,266.3 L187.0,270.9 L187.4,270.0 L187.8,267.7 L188.2,268.8 L188.7,268.4 L189.1,268.7 L189.5,267.3 L189.9,268.0 L190.3,269.0 L190.8,268.8 L191.2,269.6 L191.6,268.7 L192.0,270.6 L192.4,268.0 L192.9,268.8 L193.3,266.9 L193.7,267.5 L194.1,269.7 L194.5,267.8 L195.0,269.0 L195.4,268.5 L195.8,267.7 L196.2,268.2 L196.6,268.1 L197.1,268.1 L197.5,269.2 L197.9,269.1 L198.3,268.0 L198.7,267.7 L199.2,268.7 L199.6,268.4 L200.0,269.4 L200.4,270.8 L200.8,269.2 L201.3,268.5 L201.7,268.4 L202.1,267.8 L202.5,267.8 L202.9,267.7 L203.4,268.2 L203.8,268.2 L204.2,269.2 L204.6,268.2 L205.0,268.4 L205.5,267.6 L205.9,270.0 L206.3,269.0 L206.7,270.1 L207.1,269.3 L207.6,269.9 L208.0,268.4 L208.4,269.2 L208.8,270.9 L209.2,267.6 L209.7,269.7 L210.1,270.1 L210.5,269.0 L210.9,269.3 L211.3,269.8 L211.8,268.1 L212.2,269.0 L212.6,267.9 L213.0,268.1 L213.4,268.2 L213.9,268.6 L214.3,268.9 L214.7,269.1 L215.1,267.5 L215.5,270.5 L216.0,269.8 L216.4,269.4 L216.8,268.5 L217.2,268.7 L217.6,269.3 L218.1,269.1 L218.5,267.3 L218.9,269.4 L219.3,271.3 L219.7,267.2 L220.2,269.7 L220.6,269.1 L221.0,268.7 L221.4,270.0 L221.8,267.8 L222.3,269.0 L222.7,270.1 L223.1,268.7 L223.5,268.5 L223.9,269.0 L224.4,268.5 L224.8,270.2 L225.2,268.1 L225.6,269.7 L226.0,267.8 L226.5,269.5 L226.9,268.8 L227.3,266.7 L227.7,268.9 L228.1,268.0 L228.6,268.6 L229.0,270.3 L229.4,268.0 L229.8,268.0 L230.2,270.2 L230.7,269.1 L231.1,270.3 L231.5,269.3 L231.9,268.2 L232.3,269.0 L232.8,270.1 L233.2,269.8 L233.6,269.0 L234.0,269.1 L234.4,268.9 L234.9,268.5 L235.3,270.7 L235.7,269.1 L236.1,267.8 L236.5,267.1 L237.0,266.1 L237.0,266.1 L237.4,267.1 L237.8,268.1 L238.2,269.1 L238.6,267.6 L239.1,268.0 L239.5,269.8 L239.9,268.7 L240.3,269.5 L240.7,270.2 L241.2,269.7 L241.6,269.2 L242.0,271.0 L242.4,269.8 L242.8,268.9 L243.3,269.8 L243.7,269.5 L244.1,268.4"/>
<path d="M69.8,284.2 L70.2,283.8 L70.6,282.1 L71.1,283.6 L71.5,283.3 L71.9,283.1 L72.3,281.9 L72.7,282.9 L73.2,283.0 L73.6,283.0 L74.0,281.8 L74.4,283.2 L74.8,281.5 L75.3,282.2 L75.7,283.5 L76.1,281.6 L76.5,281.7 L76.9,282.9 L77.4,281.5 L77.8,281.3 L78.2,281.4 L78.6,281.7 L79.0,278.3 L79.5,279.1 L79.9,277.3 L80.2,276.9 L80.2,276.9 L80.3,276.3 L80.7,279.8 L81.1,279.9 L81.6,281.3 L82.0,282.1 L82.4,281.5 L82.8,282.6 L83.2,284.1 L83.7,283.1 L84.1,282.5 L84.5,283.0 L84.9,282.4 L85.3,283.5 L85.8,284.1 L86.2,282.8 L86.6,283.4 L87.0,284.6 L87.4,283.3 L87.9,284.0 L88.3,283.0 L88.7,283.3 L89.1,283.7 L89.5,286.0 L90.0,283.9 L90.4,283.9 L90.8,284.0 L91.2,284.4 L91.6,285.2 L92.1,284.9 L92.5,286.6 L92.9,285.1 L93.3,286.2 L93.7,285.3 L94.2,285.7 L94.6,284.0 L95.0,285.2 L95.4,285.4 L95.8,285.3 L96.3,283.8 L96.7,286.5 L97.1,285.5 L97.5,285.5 L97.9,285.8 L98.4,285.8 L98.8,286.4 L99.2,285.0 L99.6,285.3 L100.0,286.4 L100.5,286.3 L100.9,285.8 L101.3,285.7 L101.7,285.5 L102.1,286.2 L102.6,287.3 L103.0,285.4 L103.4,287.6 L103.8,287.0 L104.2,286.0 L104.7,287.0 L105.1,285.1 L105.5,284.9 L105.9,285.3 L106.3,286.1 L106.8,286.2 L107.2,286.1 L107.6,286.6 L108.0,284.7 L108.4,287.0 L108.9,285.4 L109.3,286.1 L109.7,286.3 L110.1,285.7 L110.5,285.5 L111.0,285.9 L111.4,286.7 L111.8,287.3 L112.2,287.3 L112.6,286.0 L113.1,286.1 L113.5,286.1 L113.9,287.2 L114.3,285.2 L114.7,288.0 L115.2,286.5 L115.6,286.3 L116.0,287.3 L116.4,287.9 L116.8,287.3 L117.3,287.9 L117.7,287.2 L118.1,288.1 L118.5,288.2 L118.9,287.1 L119.4,288.4 L119.8,287.3 L120.2,287.3 L120.6,286.4 L121.0,287.0 L121.5,287.9 L121.9,286.1 L122.3,287.8 L122.7,287.5 L123.1,287.5 L123.6,285.3 L124.0,287.1 L124.4,287.8 L124.8,286.6 L125.2,287.3 L125.7,285.2 L126.1,287.8 L126.5,286.7 L126.9,288.0 L127.3,285.7 L127.8,287.8 L128.2,287.1 L128.6,287.9 L129.0,286.5 L129.4,286.7 L129.9,289.2 L130.3,286.5 L130.7,286.4 L131.1,286.0 L131.5,284.2 L131.8,284.8 L132.0,286.4 L132.4,285.4 L132.8,285.5 L133.2,288.2 L133.6,288.2 L134.1,288.0 L134.5,288.3 L134.9,286.6 L135.3,287.2 L135.7,286.1 L136.2,286.1 L136.6,288.1 L137.0,286.7 L137.4,289.3 L137.8,287.4 L138.3,286.8 L138.7,288.0 L139.1,288.9 L139.5,287.7 L139.9,286.3 L140.4,287.7 L140.8,288.5 L141.2,286.9 L141.6,286.7 L142.0,288.2 L142.5,287.5 L142.9,286.4 L143.3,287.0 L143.7,286.7 L144.1,287.6 L144.6,287.5 L145.0,288.3 L145.4,288.0 L145.8,286.0 L146.2,287.7 L146.7,288.1 L147.1,287.8 L147.5,288.3 L147.9,286.9 L148.3,286.6 L148.8,288.2 L149.2,286.5 L149.6,285.6 L150.0,288.3 L150.4,286.7 L150.9,286.1 L151.3,284.4 L151.3,284.4 L151.7,285.1 L152.1,286.9 L152.5,287.6 L153.0,285.3 L153.4,287.9 L153.8,286.3 L154.2,286.3 L154.6,287.8 L155.1,287.2 L155.5,285.9 L155.9,288.8 L156.3,286.4 L156.7,287.4 L157.2,287.3 L157.6,288.3 L158.0,286.7 L158.4,288.0 L158.8,286.5 L159.3,288.0 L159.7,286.4 L160.1,286.7 L160.5,288.6 L160.9,287.3 L161.4,287.1 L161.8,288.9 L162.2,287.3 L162.6,286.3 L163.0,287.6 L163.5,285.9 L163.9,287.9 L164.3,287.9 L164.7,286.4 L165.1,286.3 L165.6,287.0 L166.0,286.8 L166.4,286.0 L166.8,287.3 L167.2,285.0 L167.7,286.4 L168.1,286.4 L168.5,286.5 L168.9,287.0 L169.3,285.7 L169.8,287.2 L170.2,286.5 L170.6,286.1 L171.0,285.5 L171.4,285.6 L171.9,286.9 L172.3,285.8 L172.7,286.6 L173.1,287.5 L173.5,287.4 L174.0,287.9 L174.4,286.3 L174.8,285.6 L175.2,287.4 L175.6,286.7 L176.1,287.4 L176.5,286.4 L176.9,287.4 L177.3,287.1 L177.7,287.0 L178.2,286.8 L178.6,286.7 L179.0,286.5 L179.4,286.5 L179.8,287.1 L180.3,285.8 L180.7,287.7 L181.1,286.1 L181.5,287.0 L181.9,286.1 L182.4,285.9 L182.8,287.8 L183.2,285.8 L183.6,285.0 L184.0,285.4 L184.5,285.7 L184.9,287.8 L185.3,286.1 L185.7,286.7 L186.1,285.1 L186.6,286.2 L187.0,286.4 L187.4,287.4 L187.8,285.2 L188.2,286.3 L188.7,286.0 L189.1,284.9 L189.5,285.7 L189.9,285.5 L190.3,283.7 L190.8,286.2 L191.2,286.1 L191.6,285.3 L192.0,284.5 L192.4,286.9 L192.9,285.8 L193.3,286.4 L193.7,286.7 L194.1,285.1 L194.5,286.2 L195.0,285.3 L195.4,285.4 L195.8,285.3 L196.2,285.4 L196.6,286.3 L197.1,285.5 L197.5,285.2 L197.9,285.1 L198.3,285.6 L198.7,284.5 L199.2,284.8 L199.6,285.2 L200.0,284.7 L200.4,285.1 L200.8,284.7 L201.3,286.9 L201.7,286.3 L202.1,285.6 L202.5,285.1 L202.9,287.0 L203.4,285.4 L203.8,285.1 L204.2,285.4 L204.6,285.4 L205.0,286.3 L205.5,285.1 L205.9,286.9 L206.3,284.4 L206.7,285.7 L207.1,284.3 L207.6,286.7 L208.0,284.8 L208.4,285.1 L208.8,285.9 L209.2,286.2 L209.7,284.1 L210.1,284.8 L210.5,283.9 L210.9,285.2 L211.3,285.0 L211.8,284.8 L212.2,284.5 L212.6,284.7 L213.0,284.4 L213.4,285.5 L213.9,286.3 L214.3,283.4 L214.7,284.9 L215.1,284.7 L215.5,285.4 L216.0,284.2 L216.4,284.9 L216.8,284.1 L217.2,285.6 L217.6,285.1 L218.1,284.9 L218.5,285.3 L218.9,284.8 L219.3,283.7 L219.7,285.5 L220.2,285.2 L220.6,284.8 L221.0,285.8 L221.4,286.0 L221.8,284.0 L222.3,284.3 L222.7,286.3 L223.1,286.1 L223.5,284.3 L223.9,283.9 L224.4,284.4 L224.8,284.5 L225.2,283.6 L225.6,284.9 L226.0,283.8 L226.5,283.9 L226.9,285.7 L227.3,284.3 L227.7,284.8 L228.1,285.4 L228.6,285.6 L229.0,284.6 L229.4,284.9 L229.8,284.2 L230.2,286.3 L230.7,285.4 L231.1,283.9 L231.5,284.8 L231.9,285.4 L232.3,285.2 L232.8,286.4 L233.2,286.0 L233.6,284.4 L234.0,284.7 L234.4,283.7 L234.9,285.0 L235.3,284.9 L235.7,287.1 L236.1,284.7 L236.5,281.7 L237.0,282.3 L237.0,282.3 L237.4,282.1 L237.8,283.7 L238.2,284.4 L238.6,285.1 L239.1,284.6 L239.5,284.0 L239.9,285.4 L240.3,284.3 L240.7,284.3 L241.2,283.6 L241.6,284.1 L242.0,285.3 L242.4,283.3 L242.8,284.7 L243.3,285.3 L243.7,284.4 L244.1,284.9"/>
</g>
<line x1="86.3" y1="219.5" x2="86.3" y2="157.8" stroke="#333" stroke-width="0.9"/><line x1="135.2" y1="225.1" x2="135.2" y2="210.1" stroke="#333" stroke-width="0.9"/><line x1="157.7" y1="225.0" x2="157.7" y2="207.0" stroke="#333" stroke-width="0.9"/><line x1="80.2" y1="278.9" x2="80.2" y2="271.9" stroke="#333" stroke-width="0.9"/><line x1="151.3" y1="284.4" x2="151.3" y2="277.4" stroke="#333" stroke-width="0.9"/>
<path d="M77.9,157.6 L83.3,157.6 L80.6,167.5 Z" fill="#1a1aff"/><text transform="translate(82.1,157.2) rotate(-90)" class="hkl" fill="#1a1aff" stroke="#1a1aff">(100)</text><path d="M129.3,157.6 L134.7,157.6 L132.0,167.5 Z" fill="#1a1aff"/><text transform="translate(130.6,157.2) rotate(-90)" class="hkl" fill="#1a1aff" stroke="#1a1aff">(111)</text><path d="M149.3,157.6 L154.7,157.6 L152.0,167.5 Z" fill="#1a1aff"/><text transform="translate(151.8,157.2) rotate(-90)" class="hkl" fill="#1a1aff" stroke="#1a1aff">(200)</text><path d="M167.0,157.6 L172.4,157.6 L169.7,167.5 Z" fill="#1a1aff"/><text transform="translate(179.0,157.2) rotate(-90)" class="hkl" fill="#1a1aff" stroke="#1a1aff">(210)</text><path d="M83.8,157.6 L89.2,157.6 L86.5,167.5 Z" fill="#ff1a1a"/><text transform="translate(90.7,157.2) rotate(-90)" class="hkl" fill="#ff1a1a" stroke="#ff1a1a">(111)</text><path d="M132.9,157.6 L138.3,157.6 L135.6,167.5 Z" fill="#ff1a1a"/><text transform="translate(139.2,157.2) rotate(-90)" class="hkl" fill="#ff1a1a" stroke="#ff1a1a">(220)</text><text transform="translate(101.2,157.2) rotate(-90)" class="hkl" fill="#ff1a1a" stroke="#ff1a1a">(200)</text><path d="M155.5,157.6 L160.9,157.6 L158.2,167.5 Z" fill="#ff1a1a"/><text transform="translate(160.1,157.2) rotate(-90)" class="hkl" fill="#ff1a1a" stroke="#ff1a1a">(311)</text><path d="M162.5,157.6 L167.9,157.6 L165.2,167.5 Z" fill="#ff1a1a"/><text transform="translate(169.7,157.2) rotate(-90)" class="hkl" fill="#ff1a1a" stroke="#ff1a1a">(222)</text><path d="M206.4,157.6 L211.8,157.6 L209.1,167.5 Z" fill="#ff1a1a"/><text transform="translate(212.8,157.2) rotate(-90)" class="hkl" fill="#ff1a1a" stroke="#ff1a1a">(331)</text><path d="M234.5,157.6 L239.9,157.6 L237.2,167.5 Z" fill="#ff1a1a"/><text transform="translate(241.4,157.2) rotate(-90)" class="hkl" fill="#ff1a1a" stroke="#ff1a1a">(422)</text>
<circle cx="80.1" cy="233.8" r="4.1" fill="none" stroke="#3a3aff" stroke-width="1"/><circle cx="86.4" cy="237.6" r="4.1" fill="none" stroke="#ff3a3a" stroke-width="1"/><circle cx="150.7" cy="243.9" r="4.1" fill="none" stroke="#3a3aff" stroke-width="1"/><circle cx="158.5" cy="248.2" r="4.1" fill="none" stroke="#ff3a3a" stroke-width="1"/><circle cx="80.1" cy="258.4" r="4.1" fill="none" stroke="#3a3aff" stroke-width="1"/><circle cx="131.8" cy="287.0" r="4.1" fill="none" stroke="#3a3aff" stroke-width="1"/><circle cx="151.4" cy="278.5" r="4.1" fill="none" stroke="#3a3aff" stroke-width="1"/><circle cx="170.0" cy="285.1" r="4.1" fill="none" stroke="#3a3aff" stroke-width="1"/>
<g class="tkc" text-anchor="end" style="font-size:12px">
<text x="65.6" y="302.8">0</text><text x="65.6" y="231.5">10</text><text x="65.6" y="161.1">20</text>
</g>
<g class="tkc" text-anchor="middle">
<text x="69.3" y="311.2">20</text><text x="98.5" y="311.2">30</text><text x="127.7" y="311.2">40</text><text x="156.9" y="311.2">50</text><text x="186.1" y="311.2">60</text><text x="215.3" y="311.2">70</text><text x="244.5" y="311.2">80</text>
</g>
<text x="164" y="327" class="tkc" style="font-size:12.3px" text-anchor="middle">2θ (deg)</text>
<text transform="translate(44.5,220.4) rotate(-90)" style="font-size:11.8px;fill:#111;" text-anchor="middle">Counts (x10<tspan dy="-4.5" style="font-size:7.5px">3</tspan><tspan dy="4.5">)</tspan></text>
<text x="250.3" y="227.4" class="lab" fill="#ff1a1a">CuI</text>
<text x="248.5" y="252.9" class="lab" fill="#111" style="font-size:11.5px">120 s</text>
<text x="252.3" y="273.5" class="lab" fill="#111" style="font-size:11.5px">20 s</text>
<text x="248.1" y="291.9" style="font-size:12px;fill:#1a1aff;">Cu<tspan dy="2.2" style="font-size:11.2px">3</tspan><tspan dy="-2.2">N</tspan></text>

<!-- (d) -->
<text x="268.6" y="175.7" class="pl" textLength="22.9" lengthAdjust="spacingAndGlyphs">(d)</text>
<line x1="397.8" y1="173" x2="397.8" y2="302" stroke="#999" stroke-width="0.8" stroke-dasharray="1,1"/>
<line x1="403.1" y1="173" x2="403.1" y2="302" stroke="#bbb" stroke-width="0.8" stroke-dasharray="1,1"/>
<line x1="419.5" y1="173" x2="419.5" y2="302" stroke="#d8d8d8" stroke-width="0.6" stroke-dasharray="1,1"/>
<g stroke="#999" stroke-width="1" fill="none">
<line x1="351.5" y1="171.8" x2="351.5" y2="303.2" stroke="#777" stroke-width="1.0"/><line x1="513.1" y1="171.8" x2="513.1" y2="303.2" stroke="#c4c4c4" stroke-width="1.0"/><line x1="351.5" y1="172.3" x2="513.1" y2="172.3" stroke="#c4c4c4" stroke-width="1.0"/><line x1="351.5" y1="302.7" x2="513.1" y2="302.7" stroke="#c8c8c8" stroke-width="1.0"/>
<line x1="351.5" y1="302.7" x2="351.5" y2="300.5"/>
<line x1="351.5" y1="172.3" x2="351.5" y2="174.5"/>
<line x1="432.2" y1="302.7" x2="432.2" y2="300.5"/>
<line x1="432.2" y1="172.3" x2="432.2" y2="174.5"/>
<line x1="513.0" y1="302.7" x2="513.0" y2="300.5"/>
<line x1="513.0" y1="172.3" x2="513.0" y2="174.5"/>
<line x1="391.9" y1="302.7" x2="391.9" y2="301.4"/>
<line x1="391.9" y1="172.3" x2="391.9" y2="173.60000000000002"/>
<line x1="472.6" y1="302.7" x2="472.6" y2="301.4"/>
<line x1="472.6" y1="172.3" x2="472.6" y2="173.60000000000002"/>
<line x1="351.5" y1="301.8" x2="353.7" y2="301.8"/>
<line x1="513.1" y1="301.8" x2="510.90000000000003" y2="301.8"/>
<line x1="351.5" y1="237.1" x2="353.7" y2="237.1"/>
<line x1="513.1" y1="237.1" x2="510.90000000000003" y2="237.1"/>
<line x1="351.5" y1="172.4" x2="353.7" y2="172.4"/>
<line x1="513.1" y1="172.4" x2="510.90000000000003" y2="172.4"/>
<line x1="351.5" y1="269.4" x2="352.8" y2="269.4"/>
<line x1="513.1" y1="269.4" x2="511.8" y2="269.4"/>
<line x1="351.5" y1="204.8" x2="352.8" y2="204.8"/>
<line x1="513.1" y1="204.8" x2="511.8" y2="204.8"/>
</g>
<g fill="none" stroke="#111" stroke-width="1.7" stroke-linejoin="round">
<path d="M352.2,233.8 L353.2,234.2 L354.2,234.7 L355.2,234.8 L356.2,234.9 L357.2,235.0 L358.2,235.2 L359.2,235.3 L360.2,235.5 L361.2,235.5 L362.2,235.6 L363.2,235.0 L364.2,234.4 L365.2,234.2 L366.2,234.1 L367.2,233.7 L368.2,233.3 L369.2,233.3 L370.2,233.3 L371.2,233.3 L372.2,233.3 L373.2,233.8 L374.2,234.3 L375.2,234.2 L376.2,234.1 L377.2,234.6 L378.2,235.0 L379.2,235.1 L380.2,235.2 L381.2,234.8 L382.2,234.4 L383.2,234.2 L384.2,233.9 L385.2,233.9 L386.2,233.9 L387.2,234.7 L388.2,235.5 L389.2,234.6 L390.2,233.6 L391.2,233.9 L392.2,234.3 L393.2,234.1 L394.2,234.0 L395.2,233.8 L396.2,233.6 L397.2,233.5 L398.2,233.3 L399.2,233.8 L400.2,234.2 L401.2,234.4 L402.2,234.6 L403.2,234.1 L404.2,233.6 L405.2,233.5 L406.2,233.4 L407.2,233.4 L408.2,233.4 L409.2,233.6 L410.2,233.8 L411.2,234.5 L412.2,235.2 L413.2,234.7 L414.2,234.2 L415.2,234.5 L416.2,234.8 L417.2,234.0 L418.2,233.3 L419.2,233.7 L420.2,234.0 L421.2,233.4 L422.2,232.8 L423.2,232.5 L424.2,232.1 L425.2,232.8 L426.2,233.5 L427.2,233.7 L428.2,233.9 L429.2,234.2 L430.2,234.5 L431.2,233.9 L432.2,233.3 L433.2,233.1 L434.2,233.0 L435.2,232.9 L436.2,232.7 L437.2,233.4 L438.2,234.0 L439.2,234.1 L440.2,234.2 L441.2,234.4 L442.2,234.5 L443.2,234.3 L444.2,234.1 L445.2,233.8 L446.2,233.6 L447.2,233.6 L448.2,233.6 L449.2,233.9 L450.2,234.3 L451.2,234.4 L452.2,234.6 L453.2,234.7 L454.2,234.9 L455.2,234.1 L456.2,233.2 L457.2,233.6 L458.2,234.0 L459.2,233.9 L460.2,233.7 L461.2,233.6 L462.2,233.5 L463.2,233.4 L464.2,233.4 L465.2,233.3 L466.2,233.3 L467.2,233.3 L468.2,233.3 L469.2,233.3 L470.2,233.4 L471.2,233.4 L472.2,233.3 L473.2,233.6 L474.2,233.9 L475.2,233.7 L476.2,233.5 L477.2,233.6 L478.2,233.6 L479.2,233.1 L480.2,232.5 L481.2,233.0 L482.2,233.5 L483.2,233.4 L484.2,233.3 L485.2,233.5 L486.2,233.6 L487.2,234.2 L488.2,234.8 L489.2,234.6 L490.2,234.4 L491.2,233.5 L492.2,232.7 L493.2,233.3 L494.2,233.9 L495.2,233.5 L496.2,233.2 L497.2,233.7 L498.2,234.2 L499.2,234.4 L500.2,234.7 L501.2,234.0 L502.2,233.4 L503.2,233.5 L504.2,233.6 L505.2,233.6 L506.2,233.7 L507.2,233.9 L508.2,234.2 L509.2,234.0 L510.2,233.9 L511.2,233.8 L512.2,233.7"/>
<path d="M352.2,251.8 L353.2,251.9 L354.2,251.9 L355.2,251.3 L356.2,250.7 L357.2,250.7 L358.2,250.6 L359.2,250.5 L360.2,250.3 L361.2,250.4 L362.2,250.6 L363.2,250.6 L364.2,250.7 L365.2,251.1 L366.2,251.5 L367.2,251.1 L368.2,250.7 L369.2,250.7 L370.2,250.6 L371.2,250.3 L372.2,249.9 L373.2,250.1 L374.2,250.2 L375.2,250.5 L376.2,250.8 L377.2,250.4 L378.2,250.0 L379.2,250.0 L380.2,250.1 L381.2,250.0 L382.2,249.8 L383.2,250.1 L384.2,250.3 L385.2,249.9 L386.2,249.4 L387.2,249.1 L388.2,248.8 L389.2,247.9 L390.2,246.8 L391.2,245.7 L392.2,244.5 L393.2,244.4 L394.2,244.3 L395.2,244.3 L396.2,244.5 L397.2,243.5 L398.2,242.9 L399.2,243.6 L400.2,244.6 L401.2,245.2 L402.2,245.9 L403.2,246.6 L404.2,247.2 L405.2,248.1 L406.2,249.0 L407.2,249.6 L408.2,250.0 L409.2,250.4 L410.2,250.7 L411.2,251.5 L412.2,252.3 L413.2,251.5 L414.2,250.7 L415.2,251.1 L416.2,251.5 L417.2,251.6 L418.2,251.7 L419.2,251.6 L420.2,251.5 L421.2,251.6 L422.2,251.7 L423.2,251.8 L424.2,251.9 L425.2,251.9 L426.2,251.9 L427.2,252.1 L428.2,252.3 L429.2,251.9 L430.2,251.5 L431.2,250.4 L432.2,249.4 L433.2,250.5 L434.2,251.6 L435.2,252.2 L436.2,252.8 L437.2,252.3 L438.2,251.8 L439.2,251.6 L440.2,251.4 L441.2,250.9 L442.2,250.4 L443.2,250.6 L444.2,250.9 L445.2,250.7 L446.2,250.4 L447.2,250.4 L448.2,250.3 L449.2,250.5 L450.2,250.7 L451.2,250.2 L452.2,249.8 L453.2,250.1 L454.2,250.4 L455.2,250.2 L456.2,250.0 L457.2,250.3 L458.2,250.6 L459.2,250.6 L460.2,250.6 L461.2,250.6 L462.2,250.6 L463.2,250.7 L464.2,250.9 L465.2,251.2 L466.2,251.5 L467.2,250.5 L468.2,249.6 L469.2,250.0 L470.2,250.4 L471.2,250.8 L472.2,251.2 L473.2,251.5 L474.2,251.8 L475.2,251.8 L476.2,251.8 L477.2,251.4 L478.2,250.9 L479.2,250.7 L480.2,250.4 L481.2,250.4 L482.2,250.3 L483.2,250.6 L484.2,250.8 L485.2,250.4 L486.2,250.0 L487.2,250.5 L488.2,250.9 L489.2,250.9 L490.2,250.8 L491.2,250.5 L492.2,250.1 L493.2,250.3 L494.2,250.5 L495.2,250.6 L496.2,250.7 L497.2,250.9 L498.2,251.1 L499.2,250.7 L500.2,250.2 L501.2,250.6 L502.2,251.0 L503.2,250.7 L504.2,250.3 L505.2,250.1 L506.2,249.8 L507.2,249.9 L508.2,249.9 L509.2,249.9 L510.2,250.0 L511.2,250.0 L512.2,250.0"/>
<path d="M352.2,271.3 L353.2,271.8 L354.2,272.3 L355.2,272.7 L356.2,272.7 L357.2,272.8 L358.2,272.8 L359.2,272.4 L360.2,272.0 L361.2,272.1 L362.2,272.6 L363.2,272.4 L364.2,272.3 L365.2,272.0 L366.2,271.8 L367.2,271.1 L368.2,270.9 L369.2,271.0 L370.2,271.1 L371.2,271.1 L372.2,271.1 L373.2,271.3 L374.2,271.1 L375.2,270.8 L376.2,270.5 L377.2,270.3 L378.2,270.2 L379.2,270.0 L380.2,270.0 L381.2,270.2 L382.2,270.4 L383.2,270.7 L384.2,271.1 L385.2,270.5 L386.2,269.7 L387.2,269.4 L388.2,269.0 L389.2,269.5 L390.2,269.9 L391.2,269.8 L392.2,269.2 L393.2,268.5 L394.2,267.7 L395.2,267.3 L396.2,266.8 L397.2,267.1 L398.2,266.9 L399.2,265.8 L400.2,264.7 L401.2,264.3 L402.2,264.1 L403.2,263.9 L404.2,263.9 L405.2,264.0 L406.2,264.2 L407.2,264.5 L408.2,264.9 L409.2,265.6 L410.2,266.3 L411.2,266.7 L412.2,267.1 L413.2,267.4 L414.2,267.7 L415.2,267.9 L416.2,268.2 L417.2,268.7 L418.2,269.1 L419.2,269.5 L420.2,269.8 L421.2,269.7 L422.2,269.8 L423.2,270.6 L424.2,271.4 L425.2,270.9 L426.2,270.4 L427.2,270.2 L428.2,271.0 L429.2,271.1 L430.2,271.1 L431.2,270.8 L432.2,270.5 L433.2,270.4 L434.2,270.5 L435.2,270.1 L436.2,269.7 L437.2,270.2 L438.2,270.7 L439.2,270.6 L440.2,270.7 L441.2,271.0 L442.2,271.2 L443.2,271.4 L444.2,271.7 L445.2,272.0 L446.2,271.9 L447.2,271.6 L448.2,271.4 L449.2,271.2 L450.2,271.0 L451.2,270.9 L452.2,271.7 L453.2,271.7 L454.2,271.8 L455.2,271.9 L456.2,271.9 L457.2,271.7 L458.2,271.1 L459.2,271.4 L460.2,271.7 L461.2,271.9 L462.2,272.2 L463.2,272.4 L464.2,272.0 L465.2,271.2 L466.2,270.4 L467.2,271.2 L468.2,271.9 L469.2,272.3 L470.2,271.9 L471.2,271.6 L472.2,271.4 L473.2,271.2 L474.2,270.9 L475.2,270.9 L476.2,271.2 L477.2,271.1 L478.2,271.0 L479.2,271.1 L480.2,271.3 L481.2,271.1 L482.2,271.1 L483.2,271.2 L484.2,271.3 L485.2,271.4 L486.2,271.4 L487.2,271.3 L488.2,271.2 L489.2,271.4 L490.2,271.6 L491.2,271.3 L492.2,270.9 L493.2,270.8 L494.2,270.2 L495.2,269.3 L496.2,268.5 L497.2,269.1 L498.2,269.7 L499.2,271.1 L500.2,271.1 L501.2,270.2 L502.2,269.4 L503.2,270.2 L504.2,271.1 L505.2,271.5 L506.2,271.6 L507.2,271.4 L508.2,271.2 L509.2,271.1 L510.2,271.0 L511.2,270.9 L512.2,270.8"/>
<path d="M352.2,288.2 L353.2,288.4 L354.2,288.5 L355.2,288.7 L356.2,288.9 L357.2,288.7 L358.2,288.6 L359.2,288.2 L360.2,287.9 L361.2,287.6 L362.2,287.4 L363.2,287.7 L364.2,288.0 L365.2,287.6 L366.2,287.2 L367.2,287.6 L368.2,287.9 L369.2,287.9 L370.2,287.9 L371.2,287.6 L372.2,287.3 L373.2,287.7 L374.2,288.0 L375.2,287.9 L376.2,287.8 L377.2,287.7 L378.2,287.5 L379.2,287.9 L380.2,288.3 L381.2,288.3 L382.2,288.3 L383.2,287.7 L384.2,287.0 L385.2,287.4 L386.2,287.7 L387.2,287.5 L388.2,287.2 L389.2,287.1 L390.2,287.0 L391.2,287.0 L392.2,287.0 L393.2,286.5 L394.2,286.0 L395.2,285.9 L396.2,285.8 L397.2,285.8 L398.2,285.8 L399.2,285.9 L400.2,285.9 L401.2,285.9 L402.2,285.9 L403.2,285.4 L404.2,285.0 L405.2,284.8 L406.2,284.6 L407.2,284.6 L408.2,284.5 L409.2,283.9 L410.2,283.2 L411.2,282.8 L412.2,282.2 L413.2,281.1 L414.2,279.8 L415.2,279.2 L416.2,278.6 L417.2,278.0 L418.2,277.7 L419.2,277.9 L420.2,278.4 L421.2,278.6 L422.2,279.1 L423.2,280.2 L424.2,281.5 L425.2,282.6 L426.2,283.6 L427.2,284.6 L428.2,285.5 L429.2,286.1 L430.2,286.6 L431.2,287.1 L432.2,287.5 L433.2,287.1 L434.2,286.7 L435.2,286.9 L436.2,287.1 L437.2,287.3 L438.2,287.5 L439.2,287.8 L440.2,288.1 L441.2,288.1 L442.2,288.1 L443.2,288.2 L444.2,288.4 L445.2,288.7 L446.2,289.1 L447.2,289.3 L448.2,289.5 L449.2,289.2 L450.2,288.9 L451.2,288.8 L452.2,288.8 L453.2,288.6 L454.2,288.4 L455.2,288.6 L456.2,288.7 L457.2,288.5 L458.2,288.3 L459.2,288.0 L460.2,287.6 L461.2,288.3 L462.2,289.1 L463.2,288.9 L464.2,288.7 L465.2,288.3 L466.2,288.0 L467.2,288.1 L468.2,288.3 L469.2,288.2 L470.2,288.1 L471.2,288.8 L472.2,289.4 L473.2,289.0 L474.2,288.5 L475.2,287.9 L476.2,287.4 L477.2,287.9 L478.2,288.5 L479.2,288.4 L480.2,288.3 L481.2,288.9 L482.2,289.5 L483.2,288.9 L484.2,288.4 L485.2,288.2 L486.2,288.1 L487.2,288.6 L488.2,289.2 L489.2,289.0 L490.2,288.7 L491.2,288.6 L492.2,288.4 L493.2,288.0 L494.2,287.6 L495.2,288.0 L496.2,288.5 L497.2,288.8 L498.2,289.2 L499.2,288.5 L500.2,287.8 L501.2,288.4 L502.2,289.0 L503.2,288.6 L504.2,288.2 L505.2,288.8 L506.2,289.5 L507.2,289.1 L508.2,288.8 L509.2,288.6 L510.2,288.3 L511.2,288.5 L512.2,288.7"/>
</g>
<circle cx="398.3" cy="244.9" r="8.3" fill="none" stroke="#4a4aff" stroke-width="1.1"/><circle cx="403.0" cy="265.8" r="8.3" fill="none" stroke="#4a4aff" stroke-width="1.1"/><circle cx="420.1" cy="278.6" r="8.3" fill="none" stroke="#4a4aff" stroke-width="1.1"/>
<path d="M396.5,173.0 L401.5,173.0 L399.0,181.5 Z" fill="#111"/><path d="M400.1,173.0 L405.1,173.0 L402.6,181.5 Z" fill="#111"/><path d="M417.1,173.0 L422.1,173.0 L419.6,181.5 Z" fill="#111"/>
<text transform="translate(391.5,223.3) rotate(-90)" class="tkd">23.58<tspan dy="-1.3">o</tspan></text>
<text transform="translate(414,223.3) rotate(-90)" class="tkd">23.64<tspan dy="-1.3">o</tspan></text>
<text transform="translate(429.5,223.3) rotate(-90)" class="tkd">23.84<tspan dy="-1.3">o</tspan></text>
<text x="435.3" y="187.2" class="tkd">(100)</text>
<g class="tkd" text-anchor="end">
<text x="348" y="305.8">0</text><text x="348" y="241.1">10</text><text x="348" y="176.4">20</text>
</g>
<g class="tkd" text-anchor="middle">
<text x="351.5" y="314.8">23</text><text x="432.2" y="314.8">24</text><text x="513.0" y="314.8">25</text>
</g>
<text x="438.7" y="328.6" class="tkd" style="font-size:11.4px" text-anchor="middle">2θ (deg)</text>
<text transform="translate(328.5,230.4) rotate(-90)" class="tkd" text-anchor="middle">Counts (x10<tspan dy="-4" style="font-size:7px">3</tspan><tspan dy="4">)</tspan></text>
<text x="518" y="237.4" class="lab" fill="#ff1a1a">CuI</text>
<text x="516.6" y="256" class="lab" fill="#111">120 s</text>
<text x="522" y="277.4" class="lab" fill="#111">20 s</text>
<text x="516.6" y="296.6" style="font-size:11px;fill:#1a1aff;">Cu<tspan dy="2.2" style="font-size:10.5px">3</tspan><tspan dy="-2.2">N</tspan></text>
</svg>
</body></html>
